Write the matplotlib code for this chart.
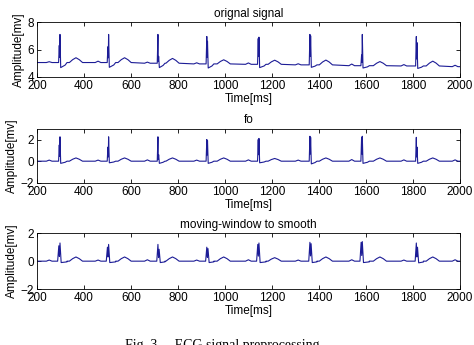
import matplotlib
matplotlib.use("Agg")
import matplotlib.pyplot as plt
import numpy as np

# beat landmarks (ms)
r_times = [298, 505, 715, 923, 1145, 1362, 1585, 1815]
t_times = [366, 573, 777, 995, 1212, 1430, 1660, 1885]
p_times = [252, 460, 670, 880, 1100, 1312, 1540, 1762, 1980]
# which side of the R spike the second (shorter) stroke sits on
shoulder_side = [-1, -1, 1, 1, -1, 1, -1, 1]

# original signal
orig_base = [5.05, 5.05, 5.0, 4.95, 4.92, 4.88, 4.82, 4.8]
orig_start, orig_end = 5.05, 4.75
orig_r = [7.1, 7.1, 7.1, 6.95, 6.9, 7.1, 7.1, 6.95]
orig_shoulder = [6.3, 6.2, 5.5, 6.6, 6.8, 7.0, 5.6, 6.5]
orig_s = [4.68, 4.7, 4.68, 4.65, 4.68, 4.7, 4.65, 4.62]
orig_t = [0.35, 0.35, 0.35, 0.3, 0.3, 0.35, 0.3, 0.35]
orig_p = [0.06, 0.1, 0.08, 0.08, 0.1, 0.08, 0.12, 0.1, 0.1]

# fo
fo_base = [0, 0, 0, 0, 0, 0, 0, 0]
fo_start, fo_end = 0.0, 0.0
fo_r = [2.25, 2.25, 2.25, 2.0, 2.1, 2.3, 2.3, 2.2]
fo_shoulder = [1.5, 1.3, 0.6, 1.9, 2.0, 2.2, 2.2, 1.3]
fo_s = [-0.2, -0.15, -0.2, -0.2, -0.15, -0.25, -0.2, -0.2]
fo_t = [0.3, 0.3, 0.3, 0.3, 0.25, 0.3, 0.3, 0.3]
fo_p = [0.1, 0.1, 0.12, 0.1, 0.12, 0.1, 0.15, 0.12, 0.12]

# moving-window to smooth
sm_base = [0, 0, 0, 0, 0, 0, 0, 0]
sm_start, sm_end = 0.0, 0.0
sm_r = [1.3, 1.2, 1.2, 1.0, 1.3, 1.35, 1.4, 1.3]
sm_shoulder = [1.1, 1.0, 0.85, 0.9, 1.2, 1.25, 1.35, 1.0]
sm_s = [-0.1, -0.1, -0.1, -0.1, -0.1, -0.1, -0.1, -0.12]
sm_t = [0.3, 0.3, 0.3, 0.3, 0.25, 0.3, 0.3, 0.3]
sm_p = [0.08, 0.08, 0.1, 0.08, 0.1, 0.08, 0.1, 0.08, 0.1]


def build_trace(base, start, end, r_peak, shoulder, s_dip, t_h, p_h, w):
    pts = [(200, start)]
    for i, r in enumerate(r_times):
        b = base[i]
        p = p_times[i]
        pts += [(p - 12, b), (p, b + p_h[i]), (p + 12, b)]
        if shoulder_side[i] < 0:
            pts += [(r - 2 * w, b), (r - w, shoulder[i]), (r - 0.5 * w, b + 0.3 * (shoulder[i] - b)),
                    (r, r_peak[i]), (r + w, s_dip[i])]
        else:
            pts += [(r - w, b), (r, r_peak[i]), (r + 0.5 * w, b + 0.3 * (shoulder[i] - b)),
                    (r + w, shoulder[i]), (r + 2 * w, s_dip[i])]
        pts += [(r + 4 * w + 10, s_dip[i] + 0.5 * (b - s_dip[i])), (r + 30, b)]
        t = t_times[i]
        pts += [(t - 28, b), (t - 14, b + 0.6 * t_h[i]), (t, b + t_h[i]),
                (t + 14, b + 0.6 * t_h[i]), (t + 28, b)]
    p = p_times[-1]
    pts += [(p - 12, end), (p, end + p_h[-1]), (p + 12, end), (2000, end)]
    x, y = zip(*pts)
    return np.array(x), np.array(y)


line_color = '#1c1c96'
plt.rcParams['font.family'] = ['Liberation Sans', 'DejaVu Sans']
plt.rcParams['font.size'] = 8

fig = plt.figure(figsize=(4.74, 3.45), dpi=100)

panels = [
    ("orignal signal", build_trace(orig_base, orig_start, orig_end, orig_r, orig_shoulder, orig_s, orig_t, orig_p, 3),
     (4, 8), [4, 6, 8], [0.078, 0.777, 0.892, 0.159]),
    ("fo", build_trace(fo_base, fo_start, fo_end, fo_r, fo_shoulder, fo_s, fo_t, fo_p, 3),
     (-2, 3), [-2, 0, 2], [0.078, 0.470, 0.892, 0.157]),
    ("moving-window to smooth", build_trace(sm_base, sm_start, sm_end, sm_r, sm_shoulder, sm_s, sm_t, sm_p, 5),
     (-2, 2), [-2, 0, 2], [0.078, 0.162, 0.892, 0.162]),
]

for title, (x, y), ylim, yticks, rect in panels:
    ax = fig.add_axes(rect)
    ax.plot(x, y, color=line_color, linewidth=0.8)
    ax.set_xlim(200, 2000)
    ax.set_ylim(*ylim)
    ax.set_xticks(range(200, 2001, 200))
    ax.set_yticks(yticks)
    ax.tick_params(direction='in', top=True, right=True, length=3, width=0.6, pad=2, labelsize=8.5)
    for sp in ax.spines.values():
        sp.set_linewidth(0.6)
    ax.set_title(title, fontsize=8.5, pad=4)
    ax.set_xlabel("Time[ms]", fontsize=8.5, labelpad=1)
    ax.set_ylabel("Amplitude[mv]", fontsize=8.5, labelpad=2)

fig.text(0.264, 1 - 339 / 345, "Fig. 3.    ECG signal preprocessing", ha='left', va='top',
         fontsize=10, family=['Liberation Serif', 'DejaVu Serif'])

fig.savefig("out.png", dpi=100)
